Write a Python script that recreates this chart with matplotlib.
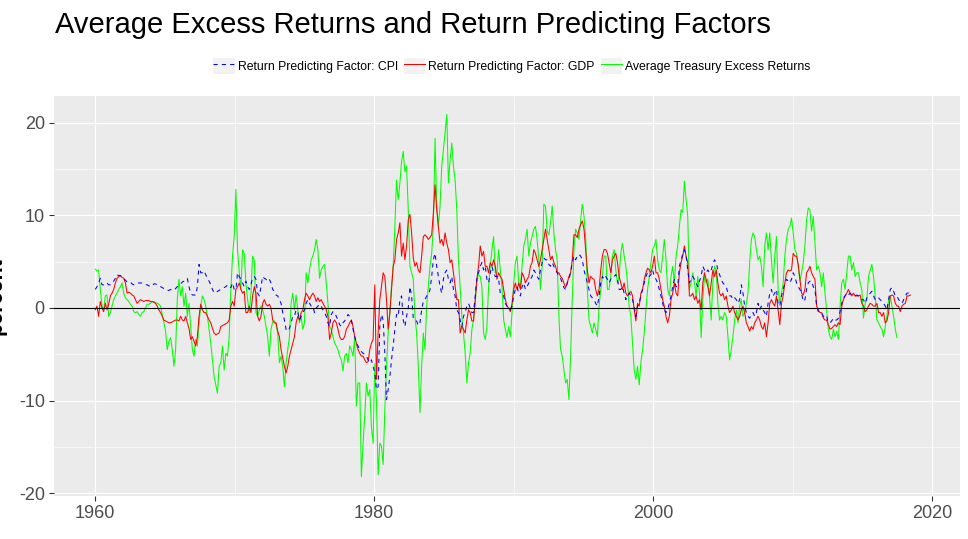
import numpy as np
import matplotlib
matplotlib.use('Agg')
import matplotlib.pyplot as plt
from matplotlib.patches import Rectangle
from matplotlib.lines import Line2D
from matplotlib.legend_handler import HandlerTuple

plt.rcParams['font.family'] = ['Liberation Sans', 'DejaVu Sans']
plt.rcParams['axes.unicode_minus'] = False

# series, one value every 0.12 year starting 1960
start_year = 1960
step = 0.12

# Return Predicting Factor: CPI
cpi = [
    # 1960s
    2.0, 2.3, 2.7, 3.2, 2.5, 2.5, 2.7, 2.7, 2.5, 2.5,
    2.7, 2.9, 3.2, 3.6, 3.5, 3.5, 3.3, 3.2, 3.0, 2.8,
    2.8, 2.8, 2.6, 2.5, 2.6, 2.7, 2.7, 2.7, 2.7, 2.6,
    2.5, 2.5, 2.4, 2.3, 2.4, 2.6, 2.6, 2.5, 2.4, 2.3,
    2.2, 2.1, 2.0, 1.9, 1.9, 2.0, 1.9, 1.9, 2.1, 2.3,
    2.5, 2.6, 2.8, 2.9, 3.1, 3.2, 2.3, 1.6, 1.4, 1.4,
    1.4, 2.3, 4.7, 3.8, 3.8, 4.0, 3.6, 3.2, 2.9, 2.5,
    2.0, 1.7, 1.6, 1.8, 1.9, 2.0, 2.1, 2.2, 2.3, 2.5,
    2.3, 2.2, 2.7, 2.0,
    # 1970s
    2.0, 3.8, 3.4, 3.1, 2.7, 2.3, 2.9, 2.3, 2.0, 2.5,
    3.2, 3.4, 3.1, 1.6, 1.3, 2.3, 3.4, 3.2, 3.1, 2.9,
    3.1, 2.7, 2.0, 1.8, 1.4, 1.3, 0.9, 0.5, -0.5, -1.3,
    -2.3, -2.5, -2.2, -1.6, -0.9, -0.9, -0.2, -0.5, -1.3, -0.9,
    -0.5, -0.2, 0.5, 0.9, 0.5, 0.2, 0.2, -0.5, 0.0, 0.2,
    0.4, 0.2, -0.2, -0.5, -0.9, -1.6, -2.0, -0.7, -0.4, -0.5,
    -0.9, -1.3, -1.8, -2.0, -1.6, -1.4, -1.1, -0.7, -0.9, -1.3,
    -2.3, -3.1, -3.8, -4.1, -4.5, -4.7, -4.9, -5.0, -5.2, -5.6,
    -5.9, -5.6, -6.3,
    # 1980s
    -7.0, -8.8, -8.5, -2.0, -0.7, -1.3, -4.9, -9.9, -8.8, -7.4,
    -5.6, -4.1, -2.3, -0.7, -0.9, 0.9, 1.3, -1.3, -2.0, -0.9,
    0.0, 2.3, 1.3, -1.1, -1.3, -1.4, -1.9, -1.6, -0.2, 0.7,
    0.9, 1.3, 1.4, 2.0, 3.4, 5.2, 5.9, 4.5, 3.4, 2.3,
    1.6, 3.1, 3.8, 4.1, 3.1, 2.7, 3.4, 2.0, 1.3, -0.2,
    -0.5, -1.3, -2.0, -0.9, -0.5, 0.2, 0.5, 0.0, -0.5, -0.5,
    1.3, 3.1, 3.8, 4.5, 4.9, 4.1, 4.5, 3.1, 2.7, 3.8,
    4.5, 3.8, 3.4, 3.4, 3.1, 1.6, 1.6, 1.3, 0.5, 0.2,
    0.0, -0.2, 0.2,
    # 1990s
    1.3, 2.0, 2.3, 1.6, 1.3, 2.3, 2.7, 2.0, 2.3, 2.7,
    3.1, 3.4, 4.1, 3.8, 3.4, 3.1, 4.1, 4.9, 5.4, 5.2,
    5.2, 4.7, 4.5, 4.9, 4.5, 4.1, 3.8, 3.4, 3.2, 2.7,
    2.2, 2.0, 2.7, 3.1, 3.8, 4.9, 5.6, 5.2, 5.6, 5.8,
    5.6, 5.2, 4.1, 3.4, 2.7, 2.0, 1.3, 1.1, 0.9, 0.5,
    0.2, 1.3, 2.7, 3.4, 3.1, 3.4, 3.1, 2.7, 3.1, 3.4,
    3.4, 3.6, 3.1, 2.0, 2.0, 2.3, 1.6, 0.9, 1.3, 1.6,
    1.3, 0.9, 0.2, -0.9, 0.2, 0.5, 1.3, 2.0, 2.7, 3.4,
    3.8, 3.4, 3.6, 4.1,
    # 2000s
    3.4, 3.1, 2.7, 2.0, 1.3, 0.5, -0.2, -0.5, -0.2, 0.5,
    1.3, 2.3, 3.1, 2.3, 2.3, 4.5, 5.2, 5.8, 6.3, 5.6,
    4.1, 2.7, 3.1, 3.4, 3.1, 2.7, 2.3, 2.9, 3.4, 4.5,
    4.1, 3.8, 4.1, 3.8, 4.1, 4.7, 5.2, 4.9, 4.1, 3.6,
    3.1, 2.7, 2.5, 2.3, 1.6, 1.3, 1.3, 0.9, 1.1, 0.9,
    0.5, 0.9, 2.5, 1.6, 0.2, -0.5, -0.9, -1.1, -0.7, -0.5,
    -0.9, -0.5, 0.5, -0.2, 0.2, -0.2, -0.5, -0.9, 0.5, 1.6,
    2.0, 1.3, 1.6, 2.0, 0.4, 0.2, 1.3, 2.0, 2.7, 3.1,
    2.9, 2.7, 3.1,
    # 2010s
    3.8, 3.4, 2.7, 2.3, 2.0, 1.6, 0.7, 0.9, 2.0, 2.7,
    2.9, 2.9, 2.3, 2.0, 0.2, -0.4, -0.5, -0.5, -0.9, -1.1,
    -0.9, -1.6, -1.6, -1.4, -1.1, -1.3, -1.3, -1.1, -0.4, 0.5,
    1.1, 1.3, 1.6, 1.4, 1.6, 1.4, 1.3, 1.3, 1.4, 1.3,
    1.1, 0.9, 0.9, 0.5, 1.1, 1.3, 1.6, 1.8, 1.3, 0.9,
    1.1, 1.1, 0.9, 0.7, 0.5, 0.2, -0.2, 0.9, 2.0, 2.2,
    1.8, 1.3, 1.3, 0.9, 0.7, 0.5, 0.9, 1.3, 1.6, 1.6,
    1.3,
]

# Return Predicting Factor: GDP
gdp = [
    # 1960s
    -0.2, 0.2, -0.9, 0.7, 0.0, -0.4, 0.5, -0.2, 0.4, 1.3,
    1.6, 2.0, 2.7, 3.2, 3.4, 3.5, 3.3, 3.2, 2.7, 1.6,
    1.7, 1.6, 1.4, 1.3, 0.9, 0.5, 0.7, 0.9, 0.8, 0.7,
    0.8, 0.8, 0.8, 0.7, 0.7, 0.6, 0.5, 0.2, -0.2, -0.5,
    -0.9, -1.3, -1.4, -1.5, -1.6, -1.6, -1.5, -1.4, -1.3, -1.3,
    -1.4, -0.9, -1.3, -1.4, -0.9, -1.6, -2.2, -3.4, -3.1, -3.6,
    -4.1, -3.1, -0.9, 0.4, -0.2, -0.5, -0.5, -0.9, -1.3, -1.6,
    -2.2, -2.7, -2.9, -2.8, -2.7, -2.0, -1.9, -1.8, -1.7, -1.6,
    -1.3, 0.2, 0.7, 0.2,
    # 1970s
    2.0, 2.3, 2.7, 2.0, 1.6, 1.8, -0.5, -0.5, 0.2, -0.5,
    1.3, 2.3, 1.6, -0.9, -1.4, -0.9, 0.5, 0.9, 0.4, 0.2,
    0.4, 0.0, -1.3, -1.6, -1.6, -2.5, -3.1, -4.5, -5.4, -6.3,
    -7.0, -6.3, -5.2, -4.5, -3.8, -3.1, -1.6, -0.9, -1.3, -0.5,
    -0.2, 0.9, 1.6, 1.3, 0.9, 1.3, 1.6, 1.3, 0.7, 1.1,
    0.7, 0.9, 0.5, 0.2, -0.2, -0.9, -3.4, -2.7, -1.6, -1.3,
    -1.6, -2.3, -3.1, -3.4, -3.4, -3.1, -2.3, -2.0, -1.6, -1.3,
    -2.0, -3.1, -3.8, -4.5, -4.9, -5.2, -5.2, -5.6, -5.9, -5.8,
    -4.5, -3.8, -3.4,
    # 1980s
    2.5, -7.7, -2.7, 0.9, 2.3, 3.8, 3.4, 0.9, -2.3, -0.5,
    2.0, 4.5, 5.2, 7.4, 8.1, 9.2, 5.6, 7.0, 5.2, 6.7,
    9.5, 10.1, 8.1, 5.4, 4.5, 4.9, 4.1, 3.8, 5.6, 7.7,
    7.9, 7.7, 7.4, 7.6, 7.9, 10.3, 13.3, 10.6, 8.8, 7.0,
    7.4, 6.7, 8.1, 7.0, 6.3, 4.9, 5.2, 3.8, 2.3, 0.9,
    0.9, -2.7, -2.0, -2.3, -2.7, -1.3, -0.2, -0.5, -1.4, -1.4,
    0.9, 3.1, 4.5, 6.7, 5.6, 6.1, 4.5, 4.5, 3.8, 4.9,
    4.5, 5.2, 4.5, 3.1, 3.8, 3.4, 3.1, 2.0, 0.9, 0.2,
    0.0, -0.4, 0.5,
    # 1990s
    2.0, 2.7, 2.0, 2.7, 2.0, 3.8, 3.4, 2.7, 3.1, 3.4,
    4.5, 4.9, 6.3, 5.9, 5.2, 4.5, 5.2, 6.3, 7.4, 8.5,
    7.4, 6.3, 5.2, 5.6, 4.9, 4.5, 3.8, 3.8, 3.4, 3.2,
    2.7, 2.2, 2.7, 3.4, 3.8, 5.2, 7.9, 7.9, 7.6, 8.5,
    9.0, 9.4, 8.5, 6.3, 4.1, 2.7, 3.4, 3.2, 3.1, 2.0,
    1.3, 2.0, 4.1, 5.6, 6.3, 6.3, 5.9, 4.9, 3.8, 5.2,
    5.6, 5.9, 4.9, 3.4, 2.7, 2.0, 2.7, 1.6, 1.3, 1.6,
    1.8, 1.3, -0.2, -1.4, 0.5, 0.2, 1.6, 2.0, 3.1, 3.8,
    4.3, 4.1, 3.8, 4.5,
    # 2000s
    5.6, 3.8, 3.8, 3.1, 2.0, 0.9, 0.2, -0.9, -1.6, -0.9,
    0.9, 1.6, 2.7, 1.6, 1.3, 3.8, 4.9, 5.6, 6.7, 5.6,
    4.9, 1.3, 1.3, 1.6, 0.9, 1.3, 0.5, 0.9, -0.2, 2.7,
    3.8, 3.1, 2.3, 1.3, 2.7, 4.1, 3.4, 4.1, 2.7, 1.6,
    1.3, 1.6, 0.9, 1.3, 0.2, -0.5, -0.2, 0.2, -0.5, -0.9,
    -1.3, -0.9, -0.2, 0.2, -0.5, -1.6, -2.0, -2.5, -2.0, -2.3,
    -1.6, -1.3, -0.9, -1.3, -2.0, -2.3, -1.6, -3.1, -1.6, 0.5,
    0.9, 0.5, 0.2, 1.3, -0.2, -1.8, 0.5, 1.3, 2.7, 3.8,
    4.1, 4.0, 4.1,
    # 2010s
    5.9, 5.6, 5.6, 4.7, 3.1, 1.6, 1.4, 2.0, 3.8, 4.1,
    4.5, 3.8, 3.4, 3.1, 0.2, -0.2, -0.5, -0.5, -1.1, -1.3,
    -1.3, -1.8, -2.3, -2.2, -2.0, -1.8, -2.0, -1.6, -1.8, 0.2,
    0.9, 1.3, 1.6, 2.0, 1.6, 1.3, 1.6, 1.3, 1.3, 1.3,
    1.4, 0.5, 0.2, -0.4, -0.2, 0.2, 0.5, 0.4, 0.2, 0.2,
    0.5, -0.5, -0.5, -0.9, -0.5, -1.6, -1.4, -0.5, 1.3, 1.4,
    1.3, 0.5, 0.2, 0.2, -0.4, 0.2, 0.4, 0.5, 1.3, 1.3,
    1.4,
]

# Average Treasury Excess Returns
avg_xr = [
    # 1960s
    4.2, 4.0, 4.1, 2.0, 0.2, -0.2, 1.3, 1.4, -0.9, -0.5,
    0.2, 0.9, 1.3, 1.6, 2.0, 2.3, 2.7, 1.6, 1.1, 0.9,
    0.7, 0.4, 0.2, -0.4, -0.5, -0.4, -0.7, -0.9, -0.5, -0.4,
    0.0, 0.4, 0.4, 0.5, 0.7, 0.7, 0.6, 0.5, 0.4, 0.2,
    -0.7, -1.6, -2.5, -4.5, -3.6, -3.2, -4.5, -6.3, -4.5, 0.9,
    3.1, 1.3, 2.3, 0.2, 1.6, -0.9, 0.5, -2.0, -4.5, -5.2,
    -3.4, -4.1, -1.6, 0.2, 1.3, 0.9, 0.2, -0.9, -2.3, -3.8,
    -5.6, -7.4, -8.3, -9.2, -6.3, -5.9, -4.1, -6.7, -4.9, -5.2,
    -3.1, 2.0, 5.6, 7.7,
    # 1970s
    12.8, 6.3, 3.8, 2.0, 6.3, 5.9, 2.7, 0.9, -0.5, 1.6,
    5.6, 5.2, -0.5, -0.9, -0.2, 0.2, -0.2, -0.9, -2.0, -3.1,
    -5.2, -2.3, -1.5, -1.4, -1.8, -2.7, -5.9, -5.2, -6.3, -8.5,
    -5.9, -4.5, -3.1, 0.5, 1.6, -0.2, 1.4, -0.2, -1.6, -0.9,
    -2.3, -1.6, 3.8, 2.7, 4.1, 5.2, 5.6, 6.3, 7.4, 6.3,
    3.2, 4.1, 4.5, 4.7, 2.7, 0.5, -2.0, -2.3, -3.1, -3.8,
    -4.1, -4.5, -5.2, -5.6, -6.8, -5.2, -4.9, -5.9, -4.1, -4.5,
    -5.2, -3.1, -10.6, -8.1, -8.1, -18.2, -14.6, -11.7, -8.1, -9.5,
    -8.8, -12.8, -14.6,
    # 1980s
    -6.0, -10.0, -18.0, -14.6, -14.9, -16.9, -11.0, -6.3, -2.7, -0.5,
    2.3, 4.5, 8.8, 13.8, 11.7, 13.5, 15.8, 16.9, 14.7, 15.3,
    10.6, 4.5, 3.8, 3.1, -0.9, -2.7, -6.3, -11.3, -6.3, -2.7,
    -4.5, 0.2, 2.3, 4.5, 5.9, 8.8, 18.3, 11.3, 8.8, 11.0,
    15.3, 17.1, 18.9, 20.9, 13.5, 16.0, 17.8, 15.3, 13.8, 10.6,
    5.2, 2.3, -0.9, -2.7, -4.9, -8.1, -5.9, -4.9, -2.3, -1.3,
    0.5, 3.1, 3.6, 3.4, 2.3, -2.7, -3.4, -2.0, 2.3, 4.5,
    6.3, 7.7, 3.8, 3.8, 6.3, 4.1, 2.3, -1.3, -2.3, -3.2,
    -2.0, -3.1, -0.5,
    # 1990s
    2.7, 4.9, 5.6, 2.7, 2.3, 4.5, 6.7, 7.4, 8.5, 5.6,
    7.0, 7.7, 8.5, 8.8, 7.4, 5.2, 2.0, 4.5, 11.2, 11.0,
    8.3, 7.9, 9.2, 11.0, 8.1, 6.3, 5.2, -0.9, -4.5, -5.2,
    -6.7, -8.1, -7.7, -9.9, -5.2, 0.9, 6.3, 8.5, 8.1, 7.4,
    9.5, 11.2, 9.9, 7.7, 2.0, -1.3, -2.0, -2.7, -1.6, -2.3,
    -3.1, 0.2, 2.0, 3.4, 5.6, 5.6, 2.0, 2.0, 3.4, 5.6,
    6.3, 4.1, 2.7, 3.4, 5.9, 7.0, 5.6, 4.5, 2.7, 0.2,
    -0.9, -3.8, -6.7, -7.7, -6.3, -8.3, -5.9, -4.5, -2.7, -0.2,
    2.0, 3.4, 4.9, 6.3,
    # 2000s
    6.7, 7.4, 5.2, 4.1, 3.8, 5.6, 7.4, 5.2, 2.0, 1.3,
    3.4, 4.5, 2.7, 5.6, 6.7, 8.8, 10.6, 10.3, 13.7, 11.7,
    9.9, 2.0, 2.7, 3.8, 2.7, 1.3, 3.4, 1.6, -3.2, 0.9,
    3.4, 2.7, 3.1, 1.3, -1.3, 2.7, 4.5, 4.1, 0.5, -1.3,
    -0.9, -1.3, -0.5, -0.9, -3.1, -5.6, -4.5, -3.1, -1.3, -0.2,
    -1.6, 0.2, 0.9, -0.9, -0.5, 0.5, 1.6, 4.9, 7.4, 8.1,
    7.7, 6.3, 5.2, 5.6, 4.5, 2.3, 6.7, 8.1, 6.3, 8.1,
    5.2, 2.7, 5.6, 7.7, 2.0, 0.5, 1.6, 2.7, 5.6, 7.4,
    8.5, 8.8, 9.7,
    # 2010s
    8.1, 6.3, 5.9, 4.5, 2.9, 3.8, 4.9, 6.7, 9.5, 10.8,
    10.6, 8.3, 9.9, 7.0, 4.1, 4.5, 3.8, 2.3, 3.8, 1.6,
    -0.2, -2.3, -3.1, -3.4, -2.3, -3.1, -2.5, -3.4, 0.2, 2.7,
    3.1, 2.0, 3.8, 5.6, 5.6, 4.1, 4.9, 3.4, 3.8, 3.8,
    2.7, 2.0, -1.1, 0.5, 0.9, 3.4, 4.1, 4.7, 3.4, 1.3,
    -1.3, -1.6, -2.0, -2.3, -3.1, -2.0, -0.9, 0.9, 1.3, 0.2,
    -0.9, -2.3, -3.2,
]

labels = ['Return Predicting Factor: CPI', 'Return Predicting Factor: GDP',
          'Average Treasury Excess Returns']
title = 'Average Excess Returns and Return Predicting Factors'

t_cpi = start_year + step * np.arange(len(cpi))
t_gdp = start_year + step * np.arange(len(gdp))
t_xr = start_year + step * np.arange(len(avg_xr))

W, H = 968, 539
fig = plt.figure(figsize=(W / 100, H / 100), dpi=100)
ax = fig.add_axes([54 / W, 1 - 495.5 / H, 906 / W, 399.5 / H])
ax.set_facecolor('#EBEBEB')
for s in ax.spines.values():
    s.set_visible(False)

ax.set_xlim(1957.04, 2022.0)
ax.set_ylim(-20.24, 22.88)
ax.set_xticks([1960, 1980, 2000, 2020])
ax.set_xticks([1970, 1990, 2010], minor=True)
ax.set_yticks([-20, -10, 0, 10, 20])
ax.set_yticks([-15, -5, 5, 15], minor=True)
ax.grid(which='major', color='white', linewidth=0.8)
ax.grid(which='minor', color='white', linewidth=0.4)
ax.set_axisbelow(True)
ax.tick_params(which='minor', length=0)
ax.tick_params(which='major', length=3.6, width=0.8, color='#333333',
               labelcolor='#4D4D4D', labelsize=13, pad=3)

lw = 0.75
ax.plot(t_xr, avg_xr, color='#00FF00', lw=lw, zorder=2)
ax.plot(t_gdp, gdp, color='red', lw=lw, zorder=2)
ax.plot(t_cpi, cpi, color='blue', lw=lw, dashes=(4, 4), zorder=2)
ax.axhline(0, color='black', lw=0.8, zorder=3)

key_bg = '#F2F2F2'
handles = [
    (Rectangle((0, 0), 1, 1, facecolor=key_bg, edgecolor='none'),
     Line2D([], [], color='blue', lw=lw, dashes=(4, 4))),
    (Rectangle((0, 0), 1, 1, facecolor=key_bg, edgecolor='none'),
     Line2D([], [], color='red', lw=lw)),
    (Rectangle((0, 0), 1, 1, facecolor=key_bg, edgecolor='none'),
     Line2D([], [], color='#00FF00', lw=lw)),
]
fig.legend(handles, labels, loc='center', bbox_to_anchor=(512 / W, 1 - 66 / H),
           ncol=3, frameon=False, fontsize=8.8,
           handler_map={tuple: HandlerTuple(ndivide=1, pad=0)},
           handlelength=1.75, handleheight=1.65, handletextpad=0.25,
           columnspacing=0.5, borderpad=0, borderaxespad=0)

fig.text(55 / W, 1 - 33 / H, title, fontsize=21, ha='left', va='baseline')
# the y label sits mostly off the left edge, as in the original
fig.text(6.5 / W, 1 - 296 / H, 'percent', rotation=90, ha='right', va='center',
         fontsize=15.5, fontweight='bold')

fig.savefig('out.png', dpi=100)
